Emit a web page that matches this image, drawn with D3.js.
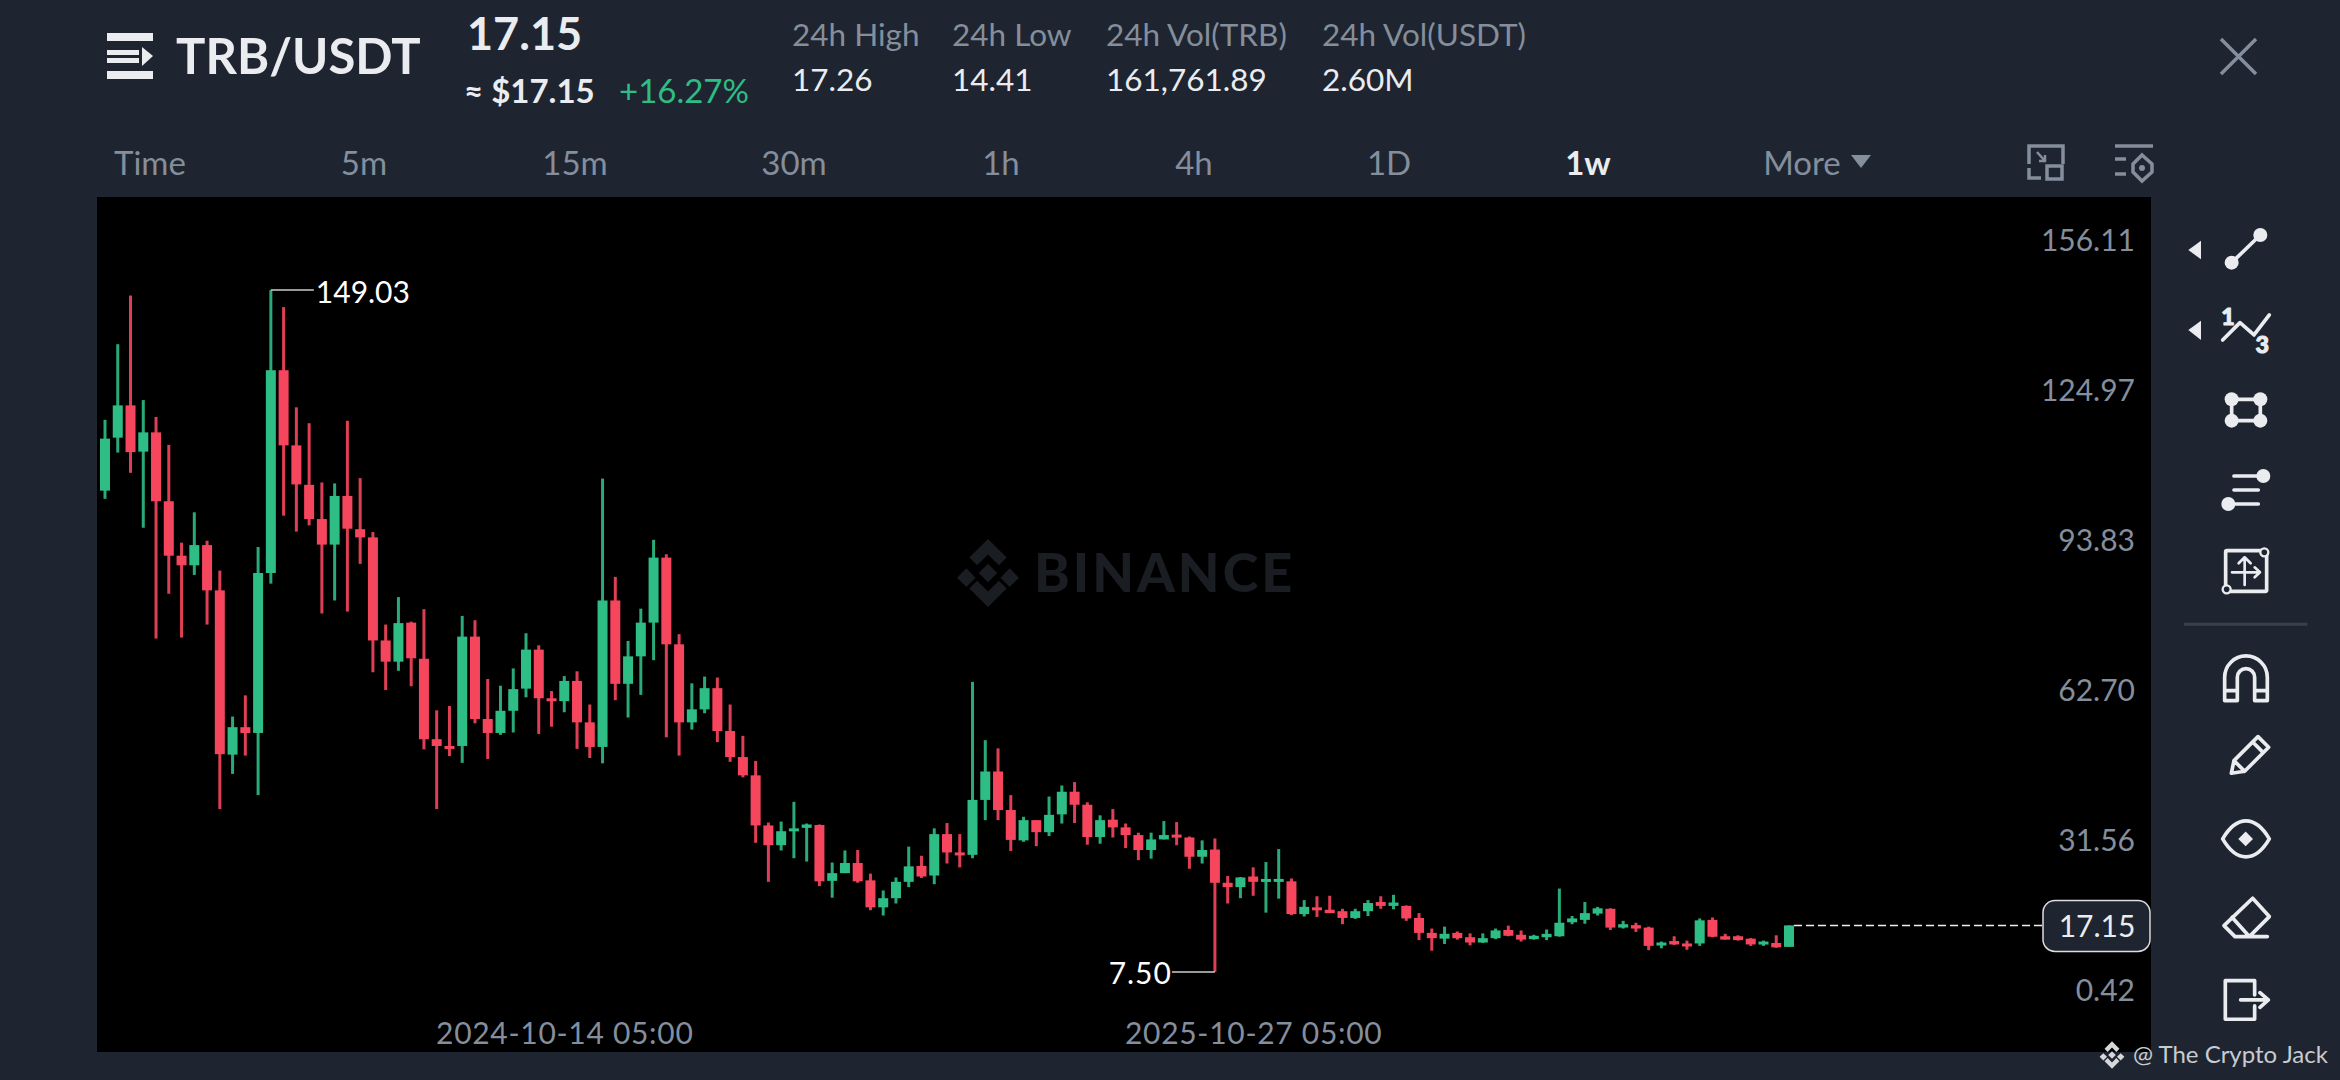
<!DOCTYPE html>
<html>
<head>
<meta charset="utf-8">
<title>TRB/USDT</title>
<script src="https://cdn.jsdelivr.net/npm/d3@7"></script>
<style>
  html, body { margin: 0; padding: 0; background: #1E2530; }
  svg { display: block; }
  text { font-family: Lato, "Open Sans", sans-serif; }
</style>
</head>
<body>
<div id="chart"></div>
<script>
// weekly candles
const opens = [
  107.4,118.4,125.1,115.5,119.5,105.2,93.9,91.9,96.1,86.7,
  52.6,58.3,57.1,90.3,132.4,116.8,108.6,101.5,96.2,106.3,
  99.4,97.7,76.3,71.9,80.0,72.5,55.8,54.4,54.4,77.1,
  60.0,57.1,61.7,66.3,74.4,64.3,63.7,67.9,59.3,54.2,
  84.6,67.3,73.0,80.0,93.5,75.5,59.3,62.0,66.4,57.5,
  52.1,48.3,37.9,33.8,36.7,37.4,38.0,26.4,28.0,30.1,
  26.5,20.9,22.8,26.2,29.5,27.5,36.1,32.3,31.8,43.2,
  49.1,41.1,34.8,39.0,36.5,40.2,44.9,42.2,35.5,39.1,
  37.5,35.9,32.8,35.0,36.0,35.4,31.4,32.9,26.0,25.1,
  27.3,26.2,26.2,26.3,19.5,20.9,20.4,20.1,18.7,20.1,
  22.0,21.2,21.2,18.7,15.6,14.4,15.6,14.7,13.6,14.5,
  16.2,15.2,14.3,14.7,14.9,17.8,18.3,19.6,20.6,16.7,
  17.2,16.7,13.2,13.9,13.4,13.4,18.3,14.9,14.9,14.4,
  13.4,13.5,12.7
];
const closes = [
  118.2,125.1,115.4,119.5,105.2,93.9,91.9,96.1,86.7,52.7,
  58.3,57.1,90.3,132.4,116.8,108.7,101.5,96.2,106.3,99.5,
  97.7,76.3,71.9,79.9,72.6,55.8,54.4,53.9,77.1,60.0,
  57.1,61.7,66.2,74.4,64.3,63.7,67.9,59.3,54.2,84.6,
  67.3,73.0,80.0,93.5,75.5,59.3,62.0,66.4,57.5,52.1,
  48.3,37.9,33.8,36.7,37.3,38.1,26.3,28.0,30.1,26.3,
  20.9,22.8,26.2,29.4,27.3,36.1,32.3,31.8,43.2,49.1,
  41.1,34.9,39.0,36.5,40.1,44.9,42.2,35.5,39.0,37.5,
  35.9,32.8,35.0,35.9,35.4,31.4,32.8,26.0,25.1,27.1,
  26.2,26.8,26.8,19.5,21.0,20.3,19.7,18.7,20.1,21.8,
  21.2,21.9,18.6,15.6,14.5,15.4,14.5,13.6,14.5,16.1,
  15.0,14.2,15.0,15.4,17.7,18.6,19.7,20.7,16.7,17.4,
  16.5,12.9,13.6,13.2,12.9,18.2,14.8,14.2,14.1,13.2,
  13.8,12.6,17.15
];
const highs = [
  122.1,137.8,147.9,126.2,122.7,116.9,96.6,102.9,97.0,90.8,
  60.5,64.9,95.7,149.03,145.5,124.7,121.4,109.1,108.9,121.9,
  110.0,98.8,79.6,85.3,80.2,82.8,61.8,62.7,81.4,80.5,
  68.3,66.9,70.5,77.8,75.3,65.8,68.9,69.9,63.0,109.9,
  89.5,76.2,82.9,97.2,94.2,77.6,67.4,68.8,68.6,63.0,
  56.5,51.3,38.5,38.7,42.8,38.3,38.1,30.2,32.7,32.8,
  27.9,24.4,27.1,33.5,31.6,37.3,38.4,36.1,67.7,55.6,
  53.9,44.2,39.7,39.0,43.9,46.2,46.9,42.7,40.0,41.3,
  38.3,36.4,36.4,38.8,38.6,35.6,34.8,35.2,27.4,27.2,
  29.2,30.3,33.0,26.9,22.4,23.2,23.3,20.6,20.6,22.4,
  23.2,23.5,21.3,19.7,16.5,16.9,15.9,15.5,15.5,16.5,
  17.1,16.1,15.2,16.3,24.8,19.1,22.0,21.0,20.7,18.1,
  17.7,16.9,13.8,14.9,14.0,18.6,18.8,15.4,15.1,14.5,
  14.0,15.1,17.15
];
const lows = [
  105.7,115.3,111.1,99.7,76.7,86.0,76.9,89.9,79.6,41.3,
  48.6,52.4,44.2,88.1,102.2,98.9,100.2,81.9,84.6,82.3,
  92.2,69.7,66.0,70.0,66.8,53.7,41.3,52.3,50.9,59.1,
  51.7,56.7,57.2,64.5,56.9,58.4,61.4,53.8,51.9,50.8,
  63.9,60.3,65.0,72.2,56.2,52.4,57.8,61.2,55.2,51.1,
  47.9,34.3,26.2,32.7,31.1,30.4,25.3,22.9,28.0,26.0,
  20.3,19.2,21.7,25.1,27.0,25.7,30.0,29.2,31.1,39.0,
  39.0,32.6,34.5,33.6,35.7,38.3,38.4,33.9,34.1,35.4,
  33.2,30.7,31.0,35.0,33.8,28.9,30.0,7.5,21.7,22.8,
  23.3,19.8,22.7,19.3,19.0,18.9,19.7,17.4,18.5,19.1,
  20.6,20.5,18.1,14.1,11.9,13.3,14.2,13.0,13.5,14.3,
  14.9,13.8,14.2,14.1,14.8,17.4,17.5,19.2,16.2,16.5,
  15.8,12.0,12.4,13.1,12.1,12.9,14.7,14.2,14.0,12.9,
  12.9,12.5,12.7
];
const priceTicks = [156.11, 124.97, 93.83, 62.70, 31.56, 0.42];
const dateTicks = ["2024-10-14T05:00Z", "2025-10-27T05:00Z"];
const lastPrice = 17.15;
const highPrice = 149.03;
const lowPrice = 7.50;
const firstWeek = "2024-02-05T05:00Z";

const statLabels = ["24h High", "24h Low", "24h Vol(TRB)", "24h Vol(USDT)"];
const statValues = ["17.26", "14.41", "161,761.89", "2.60M"];
const statX = [792, 952, 1106, 1322];
const tabLabels = ["Time", "5m", "15m", "30m", "1h", "4h", "1D", "1w", "More"];
const tabX = [150, 364, 575, 794, 1001, 1194, 1389, 1588, 1802];

const width = 2340, height = 1080;
const plot = { left: 97, top: 197, right: 2151, bottom: 1052 };
const green = "#2EBD85", red = "#F6465D";
const grey = "#848E9C", light = "#EAECEF";

const svg = d3.select("#chart").append("svg")
  .attr("width", width)
  .attr("height", height);

svg.append("rect").attr("width", width).attr("height", height).attr("fill", "#1E2530");
svg.append("rect")
  .attr("x", plot.left).attr("y", plot.top)
  .attr("width", plot.right - plot.left).attr("height", plot.bottom - plot.top)
  .attr("fill", "#000");

const weeks = closes.map((d, i) => d3.utcMonday.offset(new Date(firstWeek), i));
const x = d3.scaleUtc().domain([weeks[0], weeks[weeks.length - 1]]).range([105, 1789]);
const y = d3.scaleLinear().domain([0.42, 156.11]).range([1006, 256]);

// watermark
const mark = svg.append("g").attr("fill", "#1A1D22");
mark.append("g").attr("transform", "translate(988,573)").call(binanceLogo, 1.55);
mark.append("text").attr("x", 1034).attr("y", 592)
  .attr("font-size", 54).attr("font-weight", 900).attr("letter-spacing", 3)
  .text("BINANCE");

// axes
const yAxis = d3.axisRight(y).tickValues(priceTicks).tickSize(0).tickFormat(d3.format(".2f"));
const yg = svg.append("g").attr("transform", "translate(2135,0)").call(yAxis);
yg.select(".domain").remove();
yg.selectAll("text")
  .attr("x", 0).attr("y", -15)
  .attr("text-anchor", "end")
  .attr("font-size", 30).attr("font-family", "Lato, sans-serif")
  .attr("fill", grey);

const xAxis = d3.axisBottom(x)
  .tickValues(dateTicks.map(d => new Date(d)))
  .tickSize(0)
  .tickFormat(d3.utcFormat("%Y-%m-%d %H:%M"));
const xg = svg.append("g").attr("transform", "translate(0,1033)").call(xAxis);
xg.select(".domain").remove();
xg.selectAll("text")
  .attr("y", 0).attr("dy", "0.35em")
  .attr("font-size", 30).attr("letter-spacing", 0.7).attr("font-family", "Lato, sans-serif")
  .attr("fill", grey);

// candles
const candles = svg.append("g").selectAll("g")
  .data(weeks)
  .enter().append("g")
  .attr("fill", (d, i) => closes[i] >= opens[i] ? green : red);

candles.append("rect")
  .attr("x", d => x(d) - 1.5)
  .attr("width", 3)
  .attr("y", (d, i) => y(highs[i]))
  .attr("height", (d, i) => y(lows[i]) - y(highs[i]))
  .attr("opacity", 0.9);

candles.append("rect")
  .attr("x", d => x(d) - 5)
  .attr("width", 10)
  .attr("y", (d, i) => y(Math.max(opens[i], closes[i])))
  .attr("height", (d, i) => Math.max(3, Math.abs(y(opens[i]) - y(closes[i]))));

// high / low markers
const highIdx = highs.indexOf(highPrice);
const lowIdx = lows.indexOf(lowPrice);
svg.append("line")
  .attr("x1", x(weeks[highIdx])).attr("x2", x(weeks[highIdx]) + 43)
  .attr("y1", y(highPrice)).attr("y2", y(highPrice))
  .attr("stroke", "#ccc").attr("stroke-width", 1.5);
svg.append("text")
  .attr("x", x(weeks[highIdx]) + 45).attr("y", y(highPrice) + 2).attr("dy", "0.35em")
  .attr("font-size", 30).attr("fill", "#fff")
  .text(d3.format(".2f")(highPrice));
svg.append("line")
  .attr("x1", x(weeks[lowIdx])).attr("x2", x(weeks[lowIdx]) - 43)
  .attr("y1", y(lowPrice)).attr("y2", y(lowPrice))
  .attr("stroke", "#ccc").attr("stroke-width", 1.5);
svg.append("text")
  .attr("x", x(weeks[lowIdx]) - 43).attr("y", y(lowPrice) + 2).attr("dy", "0.35em")
  .attr("text-anchor", "end")
  .attr("font-size", 30).attr("letter-spacing", 1).attr("fill", "#fff")
  .text(d3.format(".2f")(lowPrice));

// last price line and tag
const lastX = x(weeks[weeks.length - 1]) + 5;
svg.append("line")
  .attr("x1", lastX).attr("x2", 2043)
  .attr("y1", y(lastPrice)).attr("y2", y(lastPrice))
  .attr("stroke", "#eee").attr("stroke-width", 1.5)
  .attr("stroke-dasharray", "8,4");
svg.append("rect")
  .attr("x", 2043).attr("y", y(lastPrice) - 25)
  .attr("width", 107).attr("height", 51).attr("rx", 12)
  .attr("fill", "#1E2530").attr("stroke", "#ddd").attr("stroke-width", 1.5);
svg.append("text")
  .attr("x", 2097).attr("y", y(lastPrice) + 1).attr("dy", "0.35em")
  .attr("text-anchor", "middle")
  .attr("font-size", 30).attr("fill", light)
  .text(d3.format(".2f")(lastPrice));

// header
svg.append("text").attr("x", 176).attr("y", 74)
  .attr("font-size", 49).attr("font-weight", 700).attr("fill", light).text("TRB/USDT");
svg.append("text").attr("x", 467).attr("y", 50)
  .attr("font-size", 45).attr("font-weight", 700).attr("fill", light).text("17.15");
svg.append("text").attr("x", 464).attr("y", 103)
  .attr("font-size", 33).attr("font-weight", 700).attr("fill", light).text("≈ $17.15");
svg.append("text").attr("x", 619).attr("y", 103)
  .attr("font-size", 33).attr("fill", green).text("+16.27%");

const menu = svg.append("g").attr("fill", light);
menu.append("rect").attr("x", 107).attr("y", 33).attr("width", 46).attr("height", 8);
menu.append("rect").attr("x", 107).attr("y", 50).attr("width", 32).attr("height", 5);
menu.append("rect").attr("x", 107).attr("y", 58).attr("width", 32).attr("height", 5);
menu.append("path").attr("d", "M142,47 L153,56 L142,66 Z");
menu.append("rect").attr("x", 107).attr("y", 71).attr("width", 46).attr("height", 8);

svg.append("g").selectAll("text").data(statLabels).enter().append("text")
  .attr("x", (d, i) => statX[i]).attr("y", 46)
  .attr("font-size", 31.5).attr("fill", grey).text(d => d);
svg.append("g").selectAll("text").data(statValues).enter().append("text")
  .attr("x", (d, i) => statX[i]).attr("y", 91)
  .attr("font-size", 31.5).attr("fill", light).text(d => d);

svg.append("g").selectAll("text").data(tabLabels).enter().append("text")
  .attr("x", (d, i) => tabX[i]).attr("y", 175)
  .attr("text-anchor", "middle")
  .attr("font-size", 33)
  .attr("font-weight", d => d === "1w" ? 700 : 400)
  .attr("fill", d => d === "1w" ? light : grey)
  .text(d => d);
svg.append("path").attr("d", "M1851,155 L1871,155 L1861,168 Z").attr("fill", grey);

// close cross
svg.append("path").attr("d", "M2221,39 L2256,74 M2256,39 L2221,74")
  .attr("stroke", grey).attr("stroke-width", 3.5).attr("fill", "none");

// toolbar icons above the chart
const topIcons = svg.append("g").attr("fill", "none").attr("stroke", grey).attr("stroke-width", 3.5);
topIcons.append("path").attr("d", "M2029,164 V146 H2063 V164 M2041,178 H2029 V168");
topIcons.append("rect").attr("x", 2047).attr("y", 166).attr("width", 15).attr("height", 13);
topIcons.append("path").attr("d", "M2037,152 L2045,161 M2045,155 V161 H2039").attr("stroke-width", 2.5);
topIcons.append("path").attr("d", "M2115,146 H2153 M2115,159 H2126 M2115,174 H2126");
topIcons.append("path").attr("d", "M2142,155 L2152,164 V172 L2142,181 L2133,172 V164 Z");
topIcons.append("circle").attr("cx", 2142).attr("cy", 168).attr("r", 3).attr("fill", grey).attr("stroke", "none");

// drawing tools on the right, coordinates in 3x units
const ice = "#EAECEF";
const tools = svg.append("g")
  .attr("transform", "translate(2100,200) scale(0.3333)")
  .attr("stroke", ice).attr("fill", "none").attr("stroke-width", 11)
  .attr("stroke-linecap", "round").attr("stroke-linejoin", "round");

function dot(cx, cy, r) {
  tools.append("circle").attr("cx", cx).attr("cy", cy).attr("r", r)
    .attr("fill", ice).attr("stroke", "none");
}
tools.append("path").attr("d", "M265,150 L303,122 V178 Z").attr("fill", ice).attr("stroke", "none");
tools.append("path").attr("d", "M395,188 L481,105");
dot(395, 188, 21); dot(481, 105, 21);

tools.append("path").attr("d", "M265,390 L303,362 V420 Z").attr("fill", ice).attr("stroke", "none");
tools.append("path").attr("d", "M368,420 L420,368 L462,405 L508,345");
tools.append("text").attr("x", 384).attr("y", 375).attr("text-anchor", "middle")
  .attr("font-size", 70).attr("font-weight", 900).attr("fill", ice).attr("stroke-width", 3).text("1");
tools.append("text").attr("x", 487).attr("y", 460).attr("text-anchor", "middle")
  .attr("font-size", 70).attr("font-weight", 900).attr("fill", ice).attr("stroke-width", 3).text("3");

tools.append("rect").attr("x", 395).attr("y", 598).attr("width", 86).attr("height", 64);
dot(395, 598, 21); dot(481, 598, 21); dot(395, 662, 21); dot(481, 662, 21);

tools.append("path").attr("d", "M402,828 H490 M402,870 H475 M385,912 H475");
dot(490, 828, 21); dot(385, 912, 21);

tools.append("rect").attr("x", 377).attr("y", 1052).attr("width", 123).attr("height", 122).attr("rx", 4);
tools.append("path").attr("d", "M434,1155 V1072 M416,1090 L434,1072 L452,1090 M396,1117 H480 M464,1102 L480,1117 L464,1132").attr("stroke-width", 8);
tools.append("circle").attr("cx", 493).attr("cy", 1057).attr("r", 12).attr("fill", "#1E2530").attr("stroke-width", 7);
tools.append("circle").attr("cx", 380).attr("cy", 1168).attr("r", 12).attr("fill", "#1E2530").attr("stroke-width", 7);

tools.append("line").attr("x1", 252).attr("x2", 622).attr("y1", 1273).attr("y2", 1273)
  .attr("stroke", "#3A414C").attr("stroke-width", 9).attr("stroke-linecap", "butt");

const lowerTools = tools.append("g").attr("transform", "translate(0,1320)");
// magnet
lowerTools.append("path").attr("d", "M374,182 V112 A64,64 0 0 1 502,112 V182 H464 V112 A26,26 0 0 0 412,112 V182 Z M374,152 H412 M464,152 H502");
// pencil
lowerTools.append("path").attr("d", "M394,400 L402,362 L474,290 L506,322 L434,394 Z M402,362 L434,394 M458,306 L490,338");
// eye
lowerTools.append("path").attr("d", "M368,597 C410,525 466,525 508,597 C466,669 410,669 368,597 Z");
lowerTools.append("path").attr("d", "M437,575 L459,597 L437,619 L415,597 Z").attr("fill", ice).attr("stroke", "none");
// eraser
lowerTools.append("path").attr("d", "M372,857 L458,775 L508,830 L448,890 L405,890 Z M396,832 L448,890 M448,890 H502");
// exit
lowerTools.append("path").attr("d", "M464,1065 V1022 H376 V1138 H464 V1098 M422,1080 H505 M480,1058 L505,1080 L480,1102");

// credit over the corner of the chart
svg.append("g").attr("transform", "translate(2112,1055)").attr("fill", "#d5d7da").call(binanceLogo, 0.62);
svg.append("text").attr("x", 2133).attr("y", 1063)
  .attr("font-family", "'Noto Sans', sans-serif")
  .attr("font-size", 24).attr("fill", "#c8cbcf")
  .text("@ The Crypto Jack");

// five diamonds of the exchange logo, centred on the group origin
function binanceLogo(sel, k) {
  const shapes = [
    "M0,-6 L6,0 L0,6 L-6,0 Z",
    "M-14,-3 L-20,3 L-14,9 L-8,3 Z",
    "M14,-3 L20,3 L14,9 L8,3 Z",
    "M0,-22 L-12,-10 L-7,-5 L0,-12 L7,-5 L12,-10 Z",
    "M0,22 L-12,10 L-7,5 L0,12 L7,5 L12,10 Z"
  ];
  sel.selectAll("path.logo").data(shapes).enter().append("path")
    .attr("class", "logo")
    .attr("d", d => d)
    .attr("transform", `scale(${k})`);
}
</script>
</body>
</html>
